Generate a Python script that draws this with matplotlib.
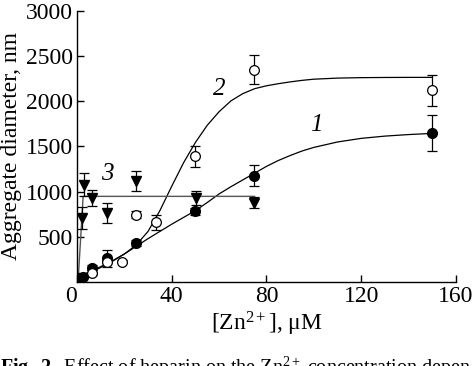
import matplotlib
matplotlib.use("Agg")
import matplotlib.pyplot as plt

plt.rcParams['font.family'] = ['Liberation Serif', 'DejaVu Serif']
plt.rcParams['mathtext.fontset'] = 'custom'
plt.rcParams['mathtext.rm'] = 'Liberation Serif'
plt.rcParams['mathtext.it'] = 'Liberation Serif:italic'
plt.rcParams['mathtext.bf'] = 'Liberation Serif:bold'

# measured points (x in uM, y in nm)
x1 = [0.5, 2.7, 6.2, 12.5, 25.1, 49.7, 74.7, 149.8]
y1 = [35, 60, 159, 263, 430, 781, 1178, 1650]
e1 = [15, 15, 25, 95, 35, 40, 115, 200]

x2 = [6.2, 12.5, 18.8, 25.1, 33.3, 50.0, 74.7, 149.8]
y2 = [96, 226, 226, 744, 659, 1393, 2350, 2120]
e2 = [15, 20, 20, 40, 80, 115, 160, 170]

x3 = [1.0, 2.0, 2.9, 6.2, 12.5, 25.1, 50.4, 74.7]
y3 = [40, 707, 1078, 930, 763, 1115, 930, 880]
e3 = [15, 125, 130, 90, 110, 110, 75, 60]

# fitted curves
c1x = [0, 5, 10, 15, 20, 25, 30, 35, 40, 45, 50, 55, 60, 65, 70, 75, 80, 85,
       90, 95, 100, 110, 120, 130, 140, 150]
c1y = [50, 100, 160, 230, 310, 395, 480, 560, 640, 715, 790, 880, 975, 1055, 1130, 1205,
       1280, 1345, 1400, 1450, 1490, 1550, 1590, 1615, 1632, 1645]
c2x = [0, 5, 10, 15, 20, 25, 30, 35, 40, 45, 50, 55, 60, 65, 70, 75, 80, 85,
       90, 95, 100, 110, 120, 130, 140, 150]
c2y = [50, 110, 170, 235, 310, 410, 560, 790, 1060, 1320, 1545, 1735, 1885, 2005, 2085,
       2140, 2172, 2195, 2215, 2232, 2245, 2257, 2262, 2264, 2265, 2265]
c3x = [0.5, 2.6, 75]
c3y = [20, 948, 948]

fig = plt.figure(figsize=(4.74, 3.66), dpi=100)
ax = fig.add_axes([0.1624, 0.2295, 0.7996, 0.7405])

ax.plot(c1x, c1y, color='black', lw=0.9)
ax.plot(c2x, c2y, color='black', lw=0.9)
ax.plot(c3x, c3y, color='#555555', lw=1.0)

eb = dict(capsize=3.5, elinewidth=0.9, capthick=0.9, ecolor='black', ls='none', ms=7)
ax.errorbar(x1, y1, yerr=e1, fmt='o', mfc='black', mec='black', **eb)
ax.errorbar(x2, y2, yerr=e2, fmt='o', mfc='white', mec='black', mew=0.9, **eb)
ax.errorbar(x3, y3, yerr=e3, fmt='v', mfc='black', mec='black', **eb)

ax.text(101, 1620, '1', fontsize=18, style='italic', ha='center', va='bottom')
ax.text(60.2, 2010, '2', fontsize=18, style='italic', ha='center', va='bottom')
ax.text(12.9, 1070, '3', fontsize=18, style='italic', ha='center', va='bottom')

ax.set_xlim(0, 160)
ax.set_ylim(0, 3000)
ax.set_xticks([0, 40, 80, 120, 160])
ax.set_yticks([500, 1000, 1500, 2000, 2500, 3000])
ax.tick_params(direction='in', length=5, width=1, labelsize=17, pad=3)
ax.spines['top'].set_visible(False)
ax.spines['right'].set_visible(False)
for sp in ['left', 'bottom']:
    ax.spines[sp].set_linewidth(1.0)
ax.get_xticklabels()[0].set_horizontalalignment('right')

ax.set_xlabel('[Zn$^{2+}$], μM', fontsize=17, labelpad=2)
ax.set_ylabel('Aggregate diameter, nm', fontsize=17, labelpad=3)

fig.text(0.0, 0.031, r'$\mathbf{Fig.\ 2.}$ Effect of heparin on the Zn$^{2+}$ concentration depen-',
         fontsize=14.5, va='top', ha='left')

fig.savefig('out.png', dpi=100)
